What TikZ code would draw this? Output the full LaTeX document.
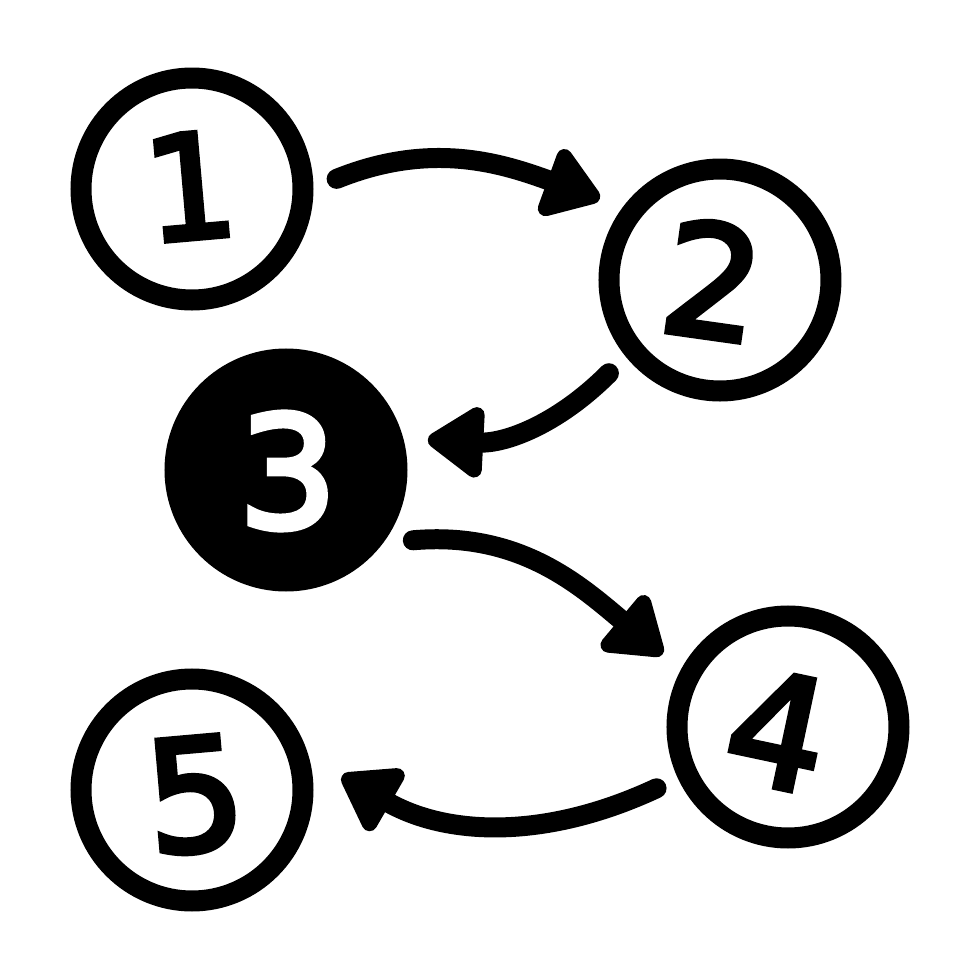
\documentclass[tikz,border=0pt]{standalone}
\usepackage{fontspec}
\usetikzlibrary{arrows.meta}
\newfontfamily\digitfont[FakeBold=4]{DejaVu Sans}
\tikzset{
    ring/.style={circle, draw=black, line width=0.21cm, minimum size=2.22cm, inner sep=0pt, outer sep=0.34cm},
    ringfull/.style={ring, fill=black},
    numtext/.style={inner sep=0pt, font=\digitfont\fontsize{44}{44}\selectfont},
    link/.style={line width=0.2cm, line cap=round, -{Triangle[round, length=0.62cm, width=0.8cm, line width=0.24cm]}}
}
\begin{document}
\begin{tikzpicture}
\useasboundingbox (0,0) rectangle (9.8,9.8);
% circles
\node[ring] (one) at (1.92, 7.91) {};
\node[ring] (two) at (7.20, 7.00) {};
\node[ringfull] (three) at (2.86, 5.10) {};
\node[ring] (four) at (7.88, 2.53) {};
\node[ring] (five) at (1.92, 1.90) {};
% numbers
\node[numtext, font=\digitfont\fontsize{41}{41}\selectfont] (numone) at (1.90, 7.94) {\rotatebox{5}{1}};
\node[numtext] (numtwo) at (7.13, 7.00) {\rotatebox{-8}{2}};
\node[numtext, text=white] (numthree) at (2.88, 5.09) {3};
\node[numtext] (numfour) at (7.78, 2.50) {\rotatebox{-12}{4}};
\node[numtext] (numfive) at (1.95, 1.85) {\rotatebox{5}{5}};
% arrows
\draw[link] (one.4) to[out=22, in=160] (two.146);
\draw[link] (two.220) to[out=-135, in=-3] (three.12);
\draw[link] (three.-29) to[out=5, in=140] (four.150);
\draw[link, shorten >=0.07cm] (four.205) to[out=-155, in=-30] (five.7);
\end{tikzpicture}
\end{document}
